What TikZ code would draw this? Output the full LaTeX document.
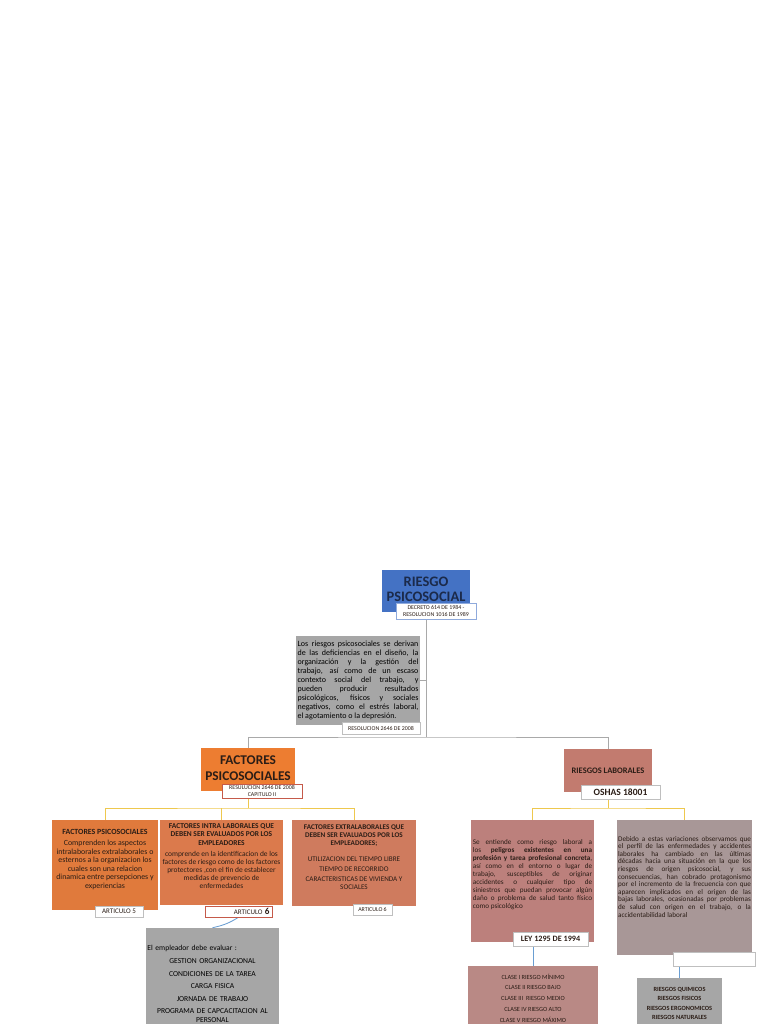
\documentclass[tikz,border=0pt]{standalone}
\usepackage{fontspec}
\setmainfont{Carlito}
\usetikzlibrary{positioning}
\usetikzlibrary{backgrounds}

\definecolor{azul}{HTML}{4472C4}
\definecolor{azuloscuro}{HTML}{1B2A4A}
\definecolor{naranja}{HTML}{ED7D31}
\definecolor{naranjab}{HTML}{E07A3C}
\definecolor{naranjac}{HTML}{DB7A4C}
\definecolor{salmon}{HTML}{CF7B5E}
\definecolor{rosado}{HTML}{C27B6F}
\definecolor{rosadob}{HTML}{BC807C}
\definecolor{rosadoc}{HTML}{B98985}
\definecolor{malva}{HTML}{A89797}
\definecolor{gris}{HTML}{A6A6A6}
\definecolor{tinta}{HTML}{2B1D16}
\definecolor{lineagris}{HTML}{A9A9A9}
\definecolor{lineaoro}{HTML}{EEC84E}
\definecolor{lineaazul}{HTML}{6A9ED2}
\definecolor{bordeazul}{HTML}{8FAADC}
\definecolor{borderojo}{HTML}{C55A4A}
\definecolor{bordegris}{HTML}{BFBFBF}

\newcommand{\letra}[2]{\fontsize{#1}{#2}\selectfont}
\hyphenpenalty=10000
\exhyphenpenalty=10000
\hbadness=10000

\tikzset{
	caja/.style={rectangle,inner sep=1pt,text=tinta,align=center},
	etiqueta/.style={rectangle,draw=bordegris,fill=white,inner sep=0.5pt,line width=0.4pt,text=tinta,align=center},
	ramagris/.style={draw=lineagris,line width=0.7pt},
	ramaoro/.style={draw=lineaoro,line width=0.7pt},
	ramaazul/.style={draw=lineaazul,line width=0.6pt}
}

\begin{document}
\begin{tikzpicture}[x=0.025cm,y=-0.025cm]
	\useasboundingbox (0,0) rectangle (768,1024);
	\clip (0,0) rectangle (768,1024);
	% nivel superior
	\node (RIESGO) at (426,591) [caja,fill=azul,text=azuloscuro,minimum width=2.2cm,minimum height=1.05cm,font=\bfseries\letra{10.3}{11}] {\raisebox{2.5pt}{\begin{tabular}{@{}c@{}}RIESGO\\PSICOSOCIAL\end{tabular}}};
	\node (DECRETO) at (436,611) [etiqueta,draw=bordeazul,minimum width=2cm,minimum height=0.4cm,font=\letra{4.2}{4.8}] {DECRETO 614 DE 1984 -\\RESOLUCION 1016 DE 1989};
	\node (DEFINICION) at (358,680.5) [caja,fill=gris,text=black,minimum width=3.1cm,minimum height=2.225cm,text width=3.02cm,align=justify,font=\letra{5.7}{6.4}] {Los riesgos psicosociales se derivan\linebreak de las deficiencias en el diseño, la\linebreak organización y la gestión del\linebreak trabajo, así como de un escaso\linebreak contexto social del trabajo, y\linebreak pueden producir resultados\linebreak psicológicos, físicos y sociales\linebreak negativos, como el estrés laboral,\linebreak el agotamiento o la depresión.};
	\node (RES2646) at (381,728) [etiqueta,minimum width=1.95cm,minimum height=0.3cm,font=\letra{4.2}{4.8}] {RESOLUCION 2646 DE 2008};
	% primer nivel
	\node (FACTORES) at (248,769.5) [caja,fill=naranja,minimum width=2.35cm,minimum height=1.075cm,font=\bfseries\letra{9.5}{10.7}] {\raisebox{1.5pt}{\begin{tabular}{@{}c@{}}FACTORES\\PSICOSOCIALES\end{tabular}}};
	\node (RESFACT) at (262,791) [etiqueta,draw=borderojo,minimum width=2cm,minimum height=0.35cm,font=\letra{4.2}{4.6}] {RESULUCION 2646 DE 2008\\CAPITULO II};
	\node (LABORALES) at (608,770.5) [caja,fill=rosado,minimum width=2.2cm,minimum height=1.075cm,font=\bfseries\letra{6}{7}] {RIESGOS LABORALES};
	\node (OSHAS) at (620.5,792) [etiqueta,minimum width=1.975cm,minimum height=0.35cm,font=\bfseries\letra{6.8}{7.5}] {OSHAS 18001};
	% segundo nivel, rama izquierda
	\node (PSICO) at (105,865) [caja,fill=naranjab,minimum width=2.65cm,minimum height=2.25cm,font=\letra{5.6}{6.1}] {\textbf{FACTORES PSICOSOCIALES}\\[2pt]Comprenden los aspectos\\intralaborales extralaborales o\\esternos a la organizacion los\\cuales son una relacion\\dinamica entre persepciones y\\experiencias\\[3pt]};
	\node (ART5) at (119,911.5) [etiqueta,minimum width=1.2cm,minimum height=0.275cm,font=\letra{5}{5.5}] {ARTICULO 5};
	\node (INTRA) at (221.5,862.5) [caja,fill=naranjac,minimum width=3.075cm,minimum height=2.125cm,font=\letra{5.3}{5.8}] {\textbf{FACTORES INTRA LABORALES QUE}\\\textbf{DEBEN SER EVALUADOS POR LOS}\\\textbf{EMPLEADORES}\\[2pt]comprende en la identificacion de los\\factores de riesgo como de los factores\\protectores ,con el fin de establecer\\medidas de prevencio de\\enfermedades\\[3pt]};
	\node (ART6A) at (238.5,911.5) [etiqueta,draw=borderojo,minimum width=1.675cm,minimum height=0.275cm,text width=1.55cm,align=right,font=\letra{5}{5.5}] {ARTICULO \textbf{\letra{6.5}{6.5}6}};
	\node (EXTRA) at (354,863) [caja,fill=salmon,minimum width=3.1cm,minimum height=2.15cm,font=\letra{5.1}{5.7}] {\textbf{FACTORES EXTRALABORALES QUE}\\\textbf{DEBEN SER EVALUADOS POR LOS}\\\textbf{EMPLEADORES;}\\[6pt]UTILIZACION DEL TIEMPO LIBRE\\[1.2pt]TIEMPO DE RECORRIDO\\[1.2pt]CARACTERISTICAS DE VIVIENDA Y\\SOCIALES\\[3pt]};
	\node (ART6B) at (372.5,909.5) [etiqueta,minimum width=0.975cm,minimum height=0.275cm,font=\letra{4.2}{4.6}] {ARTICULO 6};
	\node (EMPLEADOR) at (212.5,984) [caja,fill=gris,text=black,minimum width=3.275cm,minimum height=2.8cm,text width=3.25cm,font=\letra{5.4}{6.3}] {\makebox[3.25cm][l]{El empleador debe evaluar :}\\[3pt]GESTION ORGANIZACIONAL\\[2.6pt]CONDICIONES DE LA TAREA\\[2.6pt]CARGA FISICA\\[2.6pt]JORNADA DE TRABAJO\\[2.6pt]PROGRAMA DE CAPCACITACION AL\\PERSONAL};
	% segundo nivel, rama derecha
	\node (ENTIENDE) at (532.5,881) [caja,fill=rosadob,minimum width=3.025cm,minimum height=3.05cm,text width=2.98cm,align=justify,font=\letra{5.1}{5.7}] {Se entiende como riesgo laboral a\linebreak los \textbf{peligros existentes en una}\linebreak \textbf{profesión y tarea profesional concreta},\linebreak así como en el entorno o lugar de\linebreak trabajo, susceptibles de originar\linebreak accidentes o cualquier tipo de\linebreak siniestros que puedan provocar algún\linebreak daño o problema de salud tanto físico\linebreak como psicológico\\[4pt]};
	\node (LEY) at (550.5,939) [etiqueta,minimum width=1.875cm,minimum height=0.35cm,font=\bfseries\letra{5.8}{6.5}] {LEY 1295 DE 1994};
	\node (CLASE) at (533,998) [caja,fill=rosadoc,minimum width=3.25cm,minimum height=1.6cm,font=\letra{4.5}{7.6}] {CLASE I RIESGO MÍNIMO\\CLASE II RIESGO BAJO\\CLASE III~~RIESGO MEDIO\\CLASE IV RIESGO ALTO\\CLASE V RIESGO MÁXIMO};
	\node (DEBIDO) at (684.5,887.5) [caja,fill=malva,minimum width=3.375cm,minimum height=3.375cm,text width=3.32cm,align=justify,font=\letra{5.1}{5.4}] {Debido a estas variaciones observamos que\linebreak el perfil de las enfermedades y accidentes\linebreak laborales ha cambiado en las últimas\linebreak décadas hacia una situación en la que los\linebreak riesgos de origen psicosocial, y sus\linebreak consecuencias, han cobrado protagonismo\linebreak por el incremento de la frecuencia con que\linebreak aparecen implicados en el origen de las\linebreak bajas laborales, ocasionadas por problemas\linebreak de salud con origen en el trabajo, o la\linebreak accidentabilidad laboral\\[10pt]};
	\node (VACIO) at (714,959) [etiqueta,minimum width=2.05cm,minimum height=0.35cm] {};
	\node (QUIMICOS) at (679.5,1009) [caja,fill=gris,minimum width=2.125cm,minimum height=1.55cm,font=\bfseries\letra{4.5}{6.7}] {RIESGOS QUIMICOS\\RIESGOS FISICOS\\RIESGOS ERGONOMICOS\\RIESGOS NATURALES\\[1pt]};
	% conectores
	\begin{scope}[on background layer]
		\coordinate (BIF1) at (426,737);
		\coordinate (BIF2) at (248,808);
		\coordinate (BIF3) at (608,808);
		\draw[ramagris] (RIESGO.south) -- (BIF1);
		\draw[ramagris] (DEFINICION.east) -- (DEFINICION.east -| BIF1);
		\draw[ramagris] (FACTORES.north) |- (BIF1) -| (LABORALES.north);
		\draw[ramaoro] (FACTORES.south) -- (BIF2);
		\draw[ramaoro] (PSICO.north) |- (BIF2) -| (EXTRA.north);
		\draw[ramaoro] (INTRA.north) -- (INTRA.north |- BIF2);
		\draw[ramaoro] (LABORALES.south) -- (BIF3);
		\draw[ramaoro] (ENTIENDE.north) |- (BIF3) -| (DEBIDO.north);
		\draw[ramaazul] (ART6A.south) to[bend left=10] (EMPLEADOR.north);
		\draw[ramaazul] (CLASE.north |- LEY.south) -- (CLASE.north);
		\draw[ramaazul] (QUIMICOS.north |- VACIO.south) -- (QUIMICOS.north);
	\end{scope}
\end{tikzpicture}
\end{document}
